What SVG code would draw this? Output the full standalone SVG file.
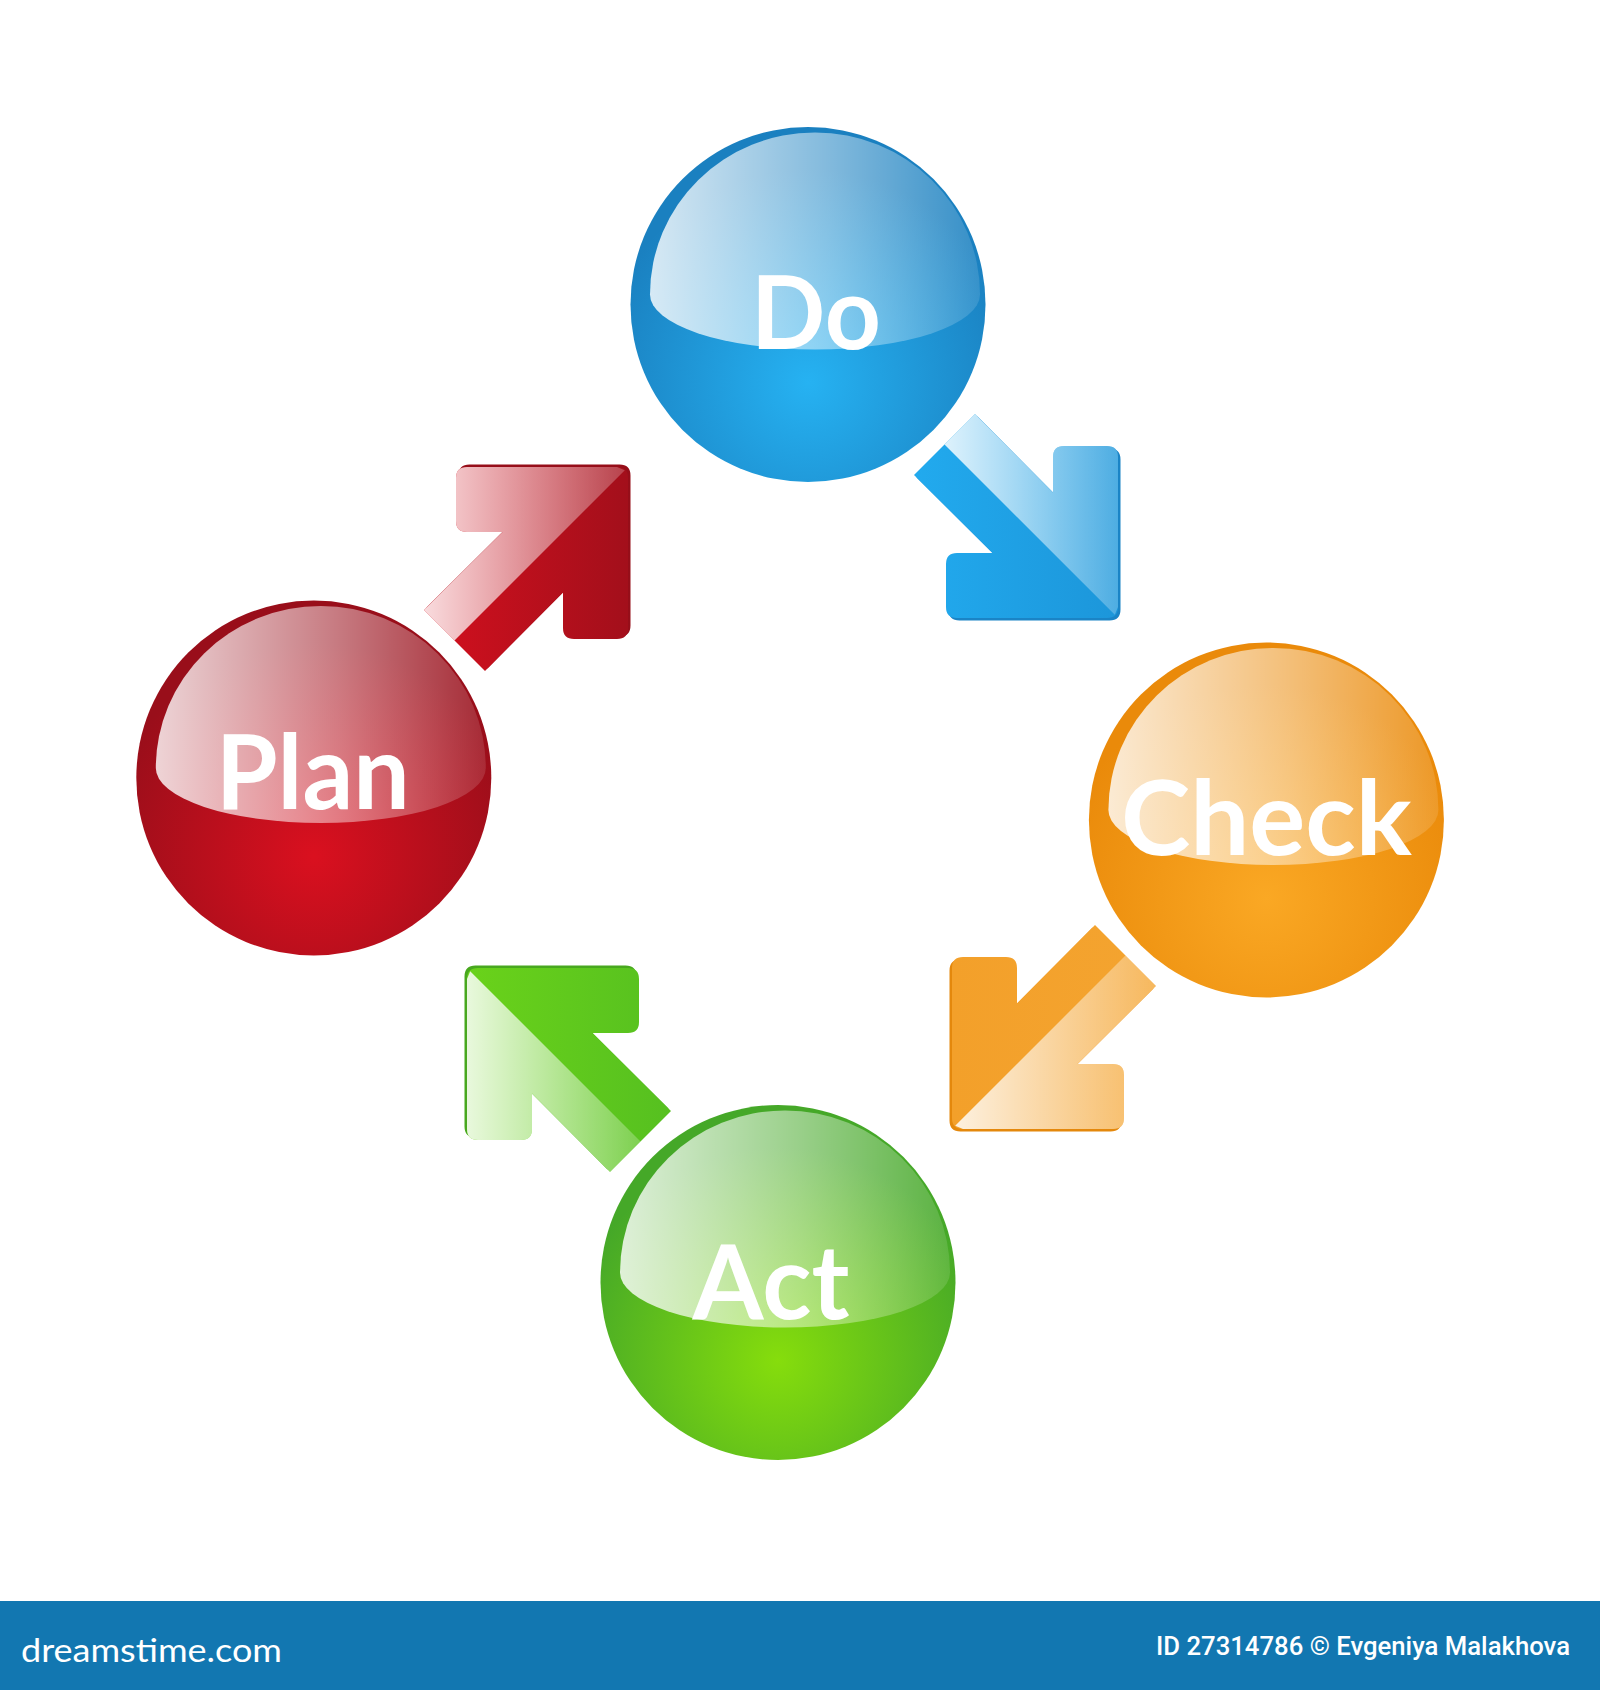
<svg xmlns="http://www.w3.org/2000/svg" width="1600" height="1690" viewBox="0 0 1600 1690">
  <defs>
    <style>
      .lbl { font-family: Lato, "Open Sans", "Liberation Sans", sans-serif; font-weight: 700; fill: #ffffff; }
      .hl { fill: url(#hlGrad); }
    </style>
    <linearGradient id="hlGrad" x1="0" y1="0" x2="1" y2="0">
      <stop offset="0" stop-color="#ffffff" stop-opacity="0.82"/>
      <stop offset="0.55" stop-color="#ffffff" stop-opacity="0.45"/>
      <stop offset="1" stop-color="#ffffff" stop-opacity="0.12"/>
    </linearGradient>
    <linearGradient id="arrowHl" x1="0" y1="0" x2="1" y2="0">
      <stop offset="0" stop-color="#ffffff" stop-opacity="0.85"/>
      <stop offset="1" stop-color="#ffffff" stop-opacity="0.22"/>
    </linearGradient>
    <linearGradient id="arrowHlR" x1="1" y1="0" x2="0" y2="0">
      <stop offset="0" stop-color="#ffffff" stop-opacity="0.85"/>
      <stop offset="1" stop-color="#ffffff" stop-opacity="0.22"/>
    </linearGradient>
    <radialGradient id="sDo" cx="0.5" cy="0.72" r="0.6">
      <stop offset="0" stop-color="#26b2f2"/>
      <stop offset="1" stop-color="#1a80c0"/>
    </radialGradient>
    <radialGradient id="sPlan" cx="0.5" cy="0.72" r="0.6">
      <stop offset="0" stop-color="#da101f"/>
      <stop offset="1" stop-color="#990e1a"/>
    </radialGradient>
    <radialGradient id="sCheck" cx="0.5" cy="0.72" r="0.6">
      <stop offset="0" stop-color="#faa824"/>
      <stop offset="1" stop-color="#ea8a0a"/>
    </radialGradient>
    <radialGradient id="sAct" cx="0.5" cy="0.72" r="0.6">
      <stop offset="0" stop-color="#86dd0c"/>
      <stop offset="1" stop-color="#45a828"/>
    </radialGradient>
    <linearGradient id="aDo" x1="0" y1="0" x2="1" y2="0">
      <stop offset="0" stop-color="#22aaee"/>
      <stop offset="1" stop-color="#1c96da"/>
    </linearGradient>
    <linearGradient id="aPlan" x1="0" y1="0" x2="1" y2="0">
      <stop offset="0" stop-color="#d3101e"/>
      <stop offset="1" stop-color="#a30f1b"/>
    </linearGradient>
    <linearGradient id="aCheck" x1="1" y1="0" x2="0" y2="0">
      <stop offset="0" stop-color="#f3a02a"/>
      <stop offset="1" stop-color="#f4a430"/>
    </linearGradient>
    <linearGradient id="aAct" x1="1" y1="0" x2="0" y2="0">
      <stop offset="0" stop-color="#6ad21a"/>
      <stop offset="1" stop-color="#56c020"/>
    </linearGradient>
    <path id="hlShape" d="M -158 -10 A 165 162 0 0 1 172 -10 A 165 55 0 0 1 -158 -10 Z"/>
    <!-- arrow pointing south-east, tip corner at origin -->
    <path id="arrowShape" d="M -143 -204 L -65 -125.5 L -65 -161 Q -65 -172 -54 -172 L -11 -172 Q 0 -172 0 -161 L 0 -11 Q 0 0 -11 0 L -161 0 Q -172 0 -172 -11 L -172 -54 Q -172 -65 -161 -65 L -125.5 -65 L -204 -143 Z"/>
    <!-- half containing the vertical bar -->
    <path id="halfV" d="M -173.5 -173.5 L -143 -204 L -65 -125.5 L -65 -161 Q -65 -172 -54 -172 L -11 -172 Q 0 -172 0 -161 L 0 -11 L -3.2 -3.2 Z"/>
    <!-- half containing the horizontal bar -->
    <path id="halfH" d="M -173.5 -173.5 L -204 -143 L -125.5 -65 L -161 -65 Q -172 -65 -172 -54 L -172 -11 Q -172 0 -161 0 L -11 0 L -3.2 -3.2 Z"/>
  </defs>

  <rect x="0" y="0" width="1600" height="1690" fill="#ffffff"/>

  <g id="connectors">
    <g id="arrow-plan-do" transform="translate(628,467) scale(1,-1)">
      <use href="#arrowShape" transform="translate(2.5,2.5)" fill="#960e19"/>
      <use href="#arrowShape" fill="url(#aPlan)"/>
      <use href="#halfH" fill="url(#arrowHl)"/>
    </g>
    <g id="arrow-do-check" transform="translate(1118,618)">
      <use href="#arrowShape" transform="translate(2.5,2.5)" fill="#1a84c6"/>
      <use href="#arrowShape" fill="url(#aDo)"/>
      <use href="#halfV" fill="url(#arrowHl)"/>
    </g>
    <g id="arrow-check-act" transform="translate(952,1129) scale(-1,1)">
      <use href="#arrowShape" transform="translate(2.5,2.5)" fill="#e4880c"/>
      <use href="#arrowShape" fill="url(#aCheck)"/>
      <use href="#halfH" fill="url(#arrowHlR)"/>
    </g>
    <g id="arrow-act-plan" transform="translate(467,968) scale(-1,-1)">
      <use href="#arrowShape" transform="translate(2.5,2.5)" fill="#48a81e"/>
      <use href="#arrowShape" fill="url(#aAct)"/>
      <use href="#halfV" fill="url(#arrowHlR)"/>
    </g>
  </g>

  <g id="node-do" transform="translate(808,304.5)">
    <circle r="177.5" fill="url(#sDo)"/>
    <use href="#hlShape" class="hl"/>
    <text class="lbl" x="8" y="44" font-size="102" text-anchor="middle" textLength="130" lengthAdjust="spacingAndGlyphs">Do</text>
  </g>

  <g id="node-plan" transform="translate(313.8,778)">
    <circle r="177.5" fill="url(#sPlan)"/>
    <use href="#hlShape" class="hl"/>
    <text class="lbl" x="-1" y="30.5" font-size="104" text-anchor="middle" textLength="194" lengthAdjust="spacingAndGlyphs">Plan</text>
  </g>

  <g id="node-check" transform="translate(1266.4,820)">
    <circle r="177.5" fill="url(#sCheck)"/>
    <use href="#hlShape" class="hl"/>
    <text class="lbl" x="0" y="35" font-size="104" text-anchor="middle" textLength="291" lengthAdjust="spacingAndGlyphs">Check</text>
  </g>

  <g id="node-act" transform="translate(778,1282.5)">
    <circle r="177.5" fill="url(#sAct)"/>
    <use href="#hlShape" class="hl"/>
    <text class="lbl" x="-7" y="36" font-size="104" text-anchor="middle" textLength="157" lengthAdjust="spacingAndGlyphs">Act</text>
  </g>

  <g id="footer">
    <rect x="0" y="1601" width="1600" height="89" fill="#1277b1"/>
    <text x="21" y="1662" font-family="Lato, 'Open Sans', sans-serif" font-size="32" fill="#ffffff" textLength="261" lengthAdjust="spacingAndGlyphs">dreamstime.com</text>
    <text x="1156" y="1655" font-family="Roboto, 'Liberation Sans', sans-serif" font-weight="500" font-size="25" fill="#ffffff" textLength="414" lengthAdjust="spacingAndGlyphs">ID 27314786 © Evgeniya Malakhova</text>
  </g>
</svg>
